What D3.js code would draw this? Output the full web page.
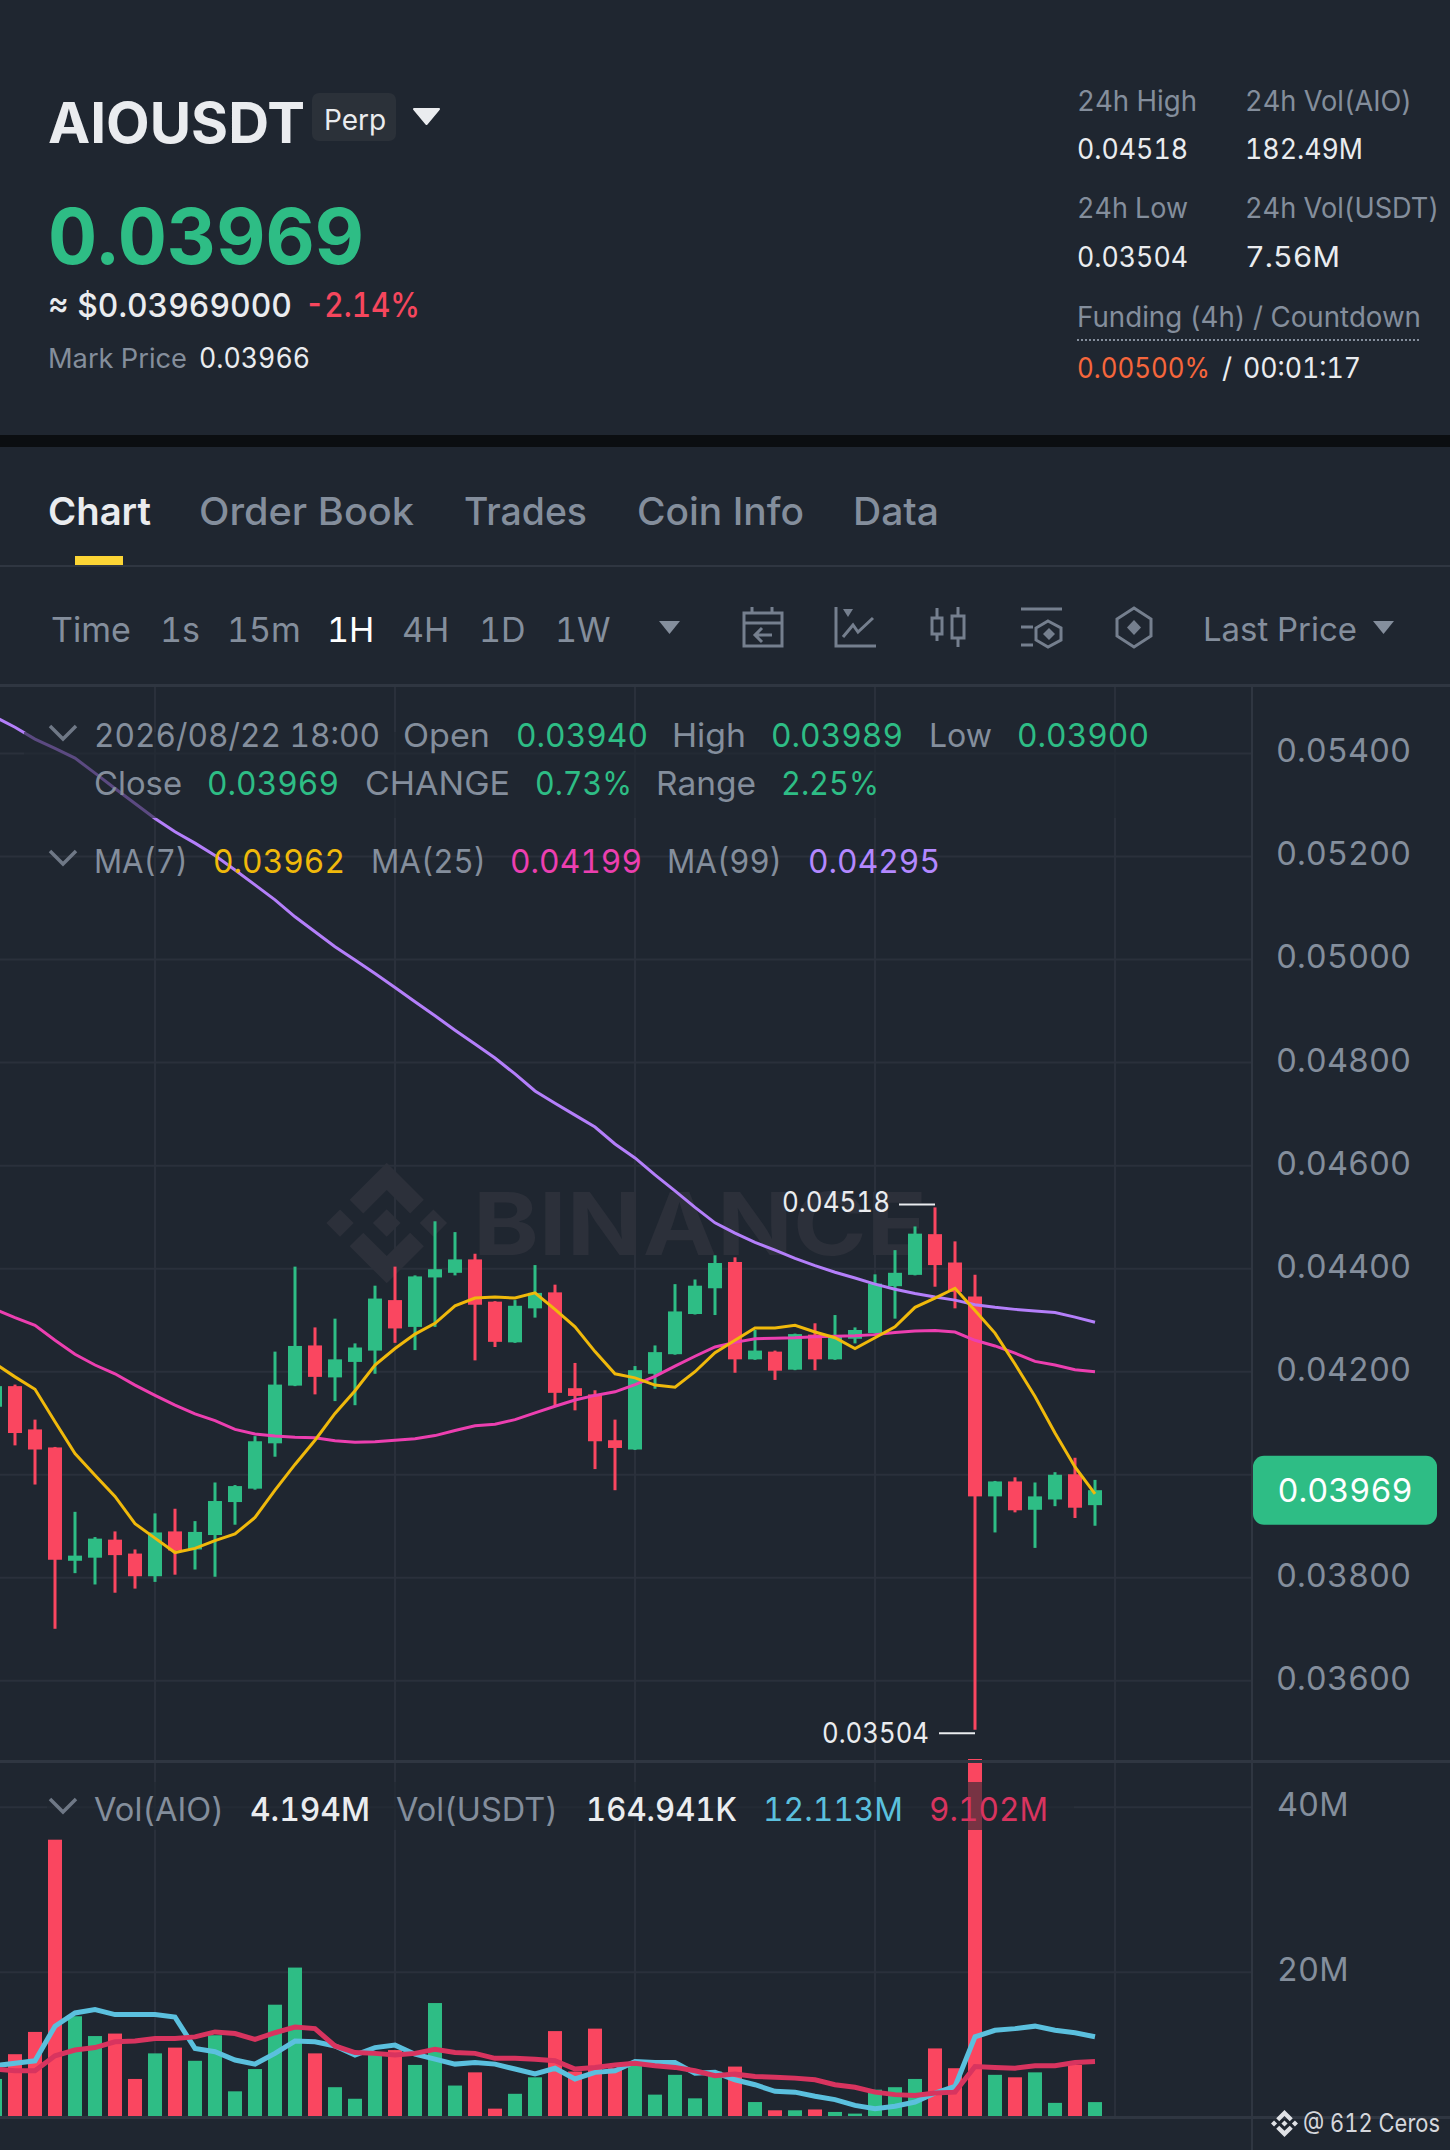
<!DOCTYPE html>
<html lang="en">
<head>
    <meta charset="utf-8">
    <script src="https://d3js.org/d3.v7.min.js"></script>
    <style>
        html, body { margin: 0; padding: 0; background: #1f2630; }
        svg { display: block; }
        text { font-family: Inter, "Noto Sans", sans-serif; font-variant-numeric: tabular-nums; }
    </style>
</head>
<body>
<script>
    // 1h candles, first one is cut by the left edge, last one is 2026/08/22 18:00
    const opens = [0.04131,0.04171,0.04087,0.04052,0.03832,0.03838,0.03873,0.03846,0.03802,0.03889,0.03854,0.03882,0.03946,0.03972,
        0.04060,0.04172,0.04250,0.04188,0.04218,0.04240,0.04338,0.04286,0.04382,0.04391,0.04417,0.04335,0.04256,0.04322,
        0.04353,0.04167,0.04155,0.04066,0.04048,0.04195,0.04233,0.04311,0.04361,0.04412,0.04223,0.04238,0.04203,0.04271,
        0.04223,0.04263,0.04274,0.04365,0.04387,0.04466,0.04411,0.04345,0.03957,0.03986,0.03931,0.03951,0.04000,0.03940];
    const highs = [0.04180,0.04174,0.04106,0.04053,0.03927,0.03878,0.03889,0.03854,0.03924,0.03933,0.03909,0.03984,0.03979,0.04074,
        0.04238,0.04403,0.04285,0.04302,0.04254,0.04366,0.04403,0.04386,0.04491,0.04470,0.04428,0.04336,0.04338,0.04406,
        0.04368,0.04216,0.04163,0.04106,0.04210,0.04250,0.04369,0.04378,0.04425,0.04421,0.04280,0.04240,0.04273,0.04293,
        0.04309,0.04285,0.04388,0.04435,0.04481,0.04518,0.04452,0.04387,0.03987,0.03994,0.03984,0.04004,0.04032,0.03989];
    const lows = [0.04115,0.04056,0.03980,0.03700,0.03808,0.03786,0.03770,0.03778,0.03791,0.03805,0.03815,0.03801,0.03902,0.03970,
        0.04034,0.04171,0.04155,0.04142,0.04134,0.04195,0.04255,0.04241,0.04286,0.04386,0.04221,0.04247,0.04255,0.04304,
        0.04132,0.04124,0.04010,0.03969,0.04047,0.04166,0.04232,0.04310,0.04309,0.04197,0.04222,0.04183,0.04202,0.04202,
        0.04222,0.04254,0.04273,0.04302,0.04386,0.04364,0.04322,0.03504,0.03887,0.03926,0.03857,0.03938,0.03915,0.03900];
    const closes = [0.04171,0.04080,0.04048,0.03834,0.03842,0.03875,0.03843,0.03802,0.03887,0.03852,0.03888,0.03948,0.03977,0.04064,
        0.04174,0.04249,0.04189,0.04223,0.04246,0.04341,0.04283,0.04384,0.04398,0.04417,0.04329,0.04257,0.04327,0.04352,
        0.04158,0.04152,0.04064,0.04051,0.04202,0.04237,0.04316,0.04366,0.04410,0.04223,0.04240,0.04201,0.04272,0.04223,
        0.04267,0.04280,0.04370,0.04391,0.04467,0.04406,0.04354,0.03957,0.03986,0.03930,0.03957,0.03999,0.03935,0.03969];

    const ma7 = [0.04215,0.04189,0.04165,0.04102,0.04040,0.03998,0.03957,0.03904,0.03876,0.03848,0.03856,0.03871,0.03884,0.03916,
        0.03969,0.04019,0.04066,0.04118,0.04162,0.04212,0.04244,0.04272,0.04293,0.04327,0.04342,0.04344,0.04342,0.04352,
        0.04320,0.04286,0.04238,0.04195,0.04187,0.04173,0.04169,0.04199,0.04236,0.04260,0.04284,0.04284,0.04289,0.04276,
        0.04265,0.04244,0.04265,0.04286,0.04324,0.04342,0.04361,0.04318,0.04274,0.04214,0.04151,0.04080,0.04014,0.03962];
    const ma25 = [0.04320,0.04304,0.04289,0.04260,0.04233,0.04212,0.04195,0.04173,0.04153,0.04134,0.04117,0.04104,0.04087,0.04078,
        0.04074,0.04072,0.04071,0.04065,0.04062,0.04063,0.04066,0.04069,0.04075,0.04085,0.04094,0.04097,0.04106,0.04119,
        0.04132,0.04144,0.04153,0.04160,0.04174,0.04190,0.04210,0.04229,0.04247,0.04256,0.04263,0.04264,0.04265,0.04267,
        0.04268,0.04269,0.04271,0.04275,0.04278,0.04279,0.04276,0.04260,0.04249,0.04235,0.04219,0.04212,0.04203,0.04199];
    const ma99 = [0.05470,0.05450,0.05427,0.05409,0.05390,0.05361,0.05331,0.05302,0.05273,0.05247,0.05225,0.05201,0.05173,0.05144,
        0.05115,0.05082,0.05053,0.05024,0.04998,0.04972,0.04945,0.04917,0.04890,0.04862,0.04835,0.04808,0.04777,0.04744,
        0.04720,0.04697,0.04674,0.04641,0.04614,0.04581,0.04550,0.04518,0.04488,0.04468,0.04450,0.04435,0.04419,0.04405,
        0.04392,0.04381,0.04369,0.04359,0.04351,0.04344,0.04338,0.04329,0.04324,0.04320,0.04317,0.04314,0.04305,0.04295];

    // volume in millions
    const volumes = [7.0,10.0,12.7,36.0,14.6,12.2,12.5,7.0,10.1,10.8,9.2,12.3,5.5,8.2,
        16.0,20.5,10.1,6.0,4.6,10.1,10.5,8.7,16.2,6.2,7.8,3.4,5.2,7.2,
        12.8,7.9,13.1,8.3,8.7,5.1,7.5,4.65,7.9,8.5,4.2,3.2,3.2,3.3,
        3.0,2.8,5.7,6.0,7.0,10.7,8.3,46.0,7.5,7.2,7.8,4.1,8.7,4.194];
    const volMaShort = [8.6,8.9,9.2,13.4,15.0,15.4,14.8,14.8,14.8,14.5,10.7,10.3,9.3,8.8,
        10.1,11.6,11.5,11.0,9.9,10.8,11.1,10.0,9.4,8.8,9.0,8.8,8.2,7.6,
        8.3,7.0,7.8,8.0,9.1,9.0,9.0,7.7,7.8,6.9,6.3,5.5,5.4,4.9,
        4.5,3.8,3.4,3.7,4.2,5.3,6.1,12.1,12.9,13.1,13.4,12.9,12.6,12.113];
    const volMaLong = [8.2,8.0,8.0,9.8,10.5,10.8,11.5,11.6,11.9,11.9,12.1,12.7,12.5,11.8,
        12.6,13.3,13.1,11.0,10.2,10.1,9.9,10.1,10.6,10.2,10.1,9.5,9.5,9.4,
        9.2,8.2,8.4,8.7,8.9,8.6,8.4,8.0,7.4,7.6,7.3,7.2,7.1,6.9,
        6.3,6.0,5.4,5.1,5.0,5.3,5.4,8.5,8.4,8.3,8.6,8.6,9.0,9.102];

    const priceTicks = [0.036,0.038,0.040,0.042,0.044,0.046,0.048,0.050,0.052,0.054];
    const volTicks = [20,40];
    const timeGrid = [8,20,32,44,56];

    const timeframes = ['Time','1s','15m','1H','4H','1D','1W'];
    const tabs = ['Chart','Order Book','Trades','Coin Info','Data'];

    const GREEN = '#2ebd85', RED = '#fa4660', GREY = '#848e9c', WHITE = '#eaecef';
    const BG = '#1f2630', GRID = '#2a303b', LINE = '#2f3641';
    const LOGO = 'M38.73 53.2l24.59-24.58 24.6 24.6 14.3-14.31L63.32 0l-38.9 38.9zM0 63.31l14.3-14.31 14.31 14.31-14.31 14.3zM38.73 73.41l24.59 24.59 24.6-24.6 14.31 14.29-38.9 38.91-38.91-38.88-.02-.02zM98 63.31l14.3-14.31 14.31 14.3-14.31 14.32zM77.83 63.3L63.32 48.78 52.59 59.51l-1.24 1.23-2.54 2.54 14.51 14.5 14.51-14.47z';

    const svg = d3.select('body').append('svg').attr('width', 1450).attr('height', 2150);
    svg.append('rect').attr('width', 1450).attr('height', 2150).attr('fill', BG);

    // w stretches the text to the width it has in the reference
    function label(x, y, str, size, color, weight, anchor, w) {
        const t = svg.append('text').attr('x', x).attr('y', y).text(str)
            .attr('font-size', size).attr('fill', color)
            .attr('font-weight', weight || 400)
            .attr('text-anchor', anchor || 'start');
        if (w) t.attr('textLength', w).attr('lengthAdjust', 'spacingAndGlyphs');
        return t;
    }

    // scales
    const x = d3.scaleLinear().domain([0, 1]).range([-5, 15]);
    const y = d3.scaleLinear().domain([0.036, 0.054]).range([1680.3, 753]);
    const yVol = d3.scaleLinear().domain([20, 40]).range([1971.7, 1806.7]);
    const idx = opens.map((d, i) => i);
    const fmt = d3.format('.5f');

    // pane clips
    const defs = svg.append('defs');
    defs.append('clipPath').attr('id', 'main').append('rect').attr('x', 0).attr('y', 686).attr('width', 1251).attr('height', 1075);
    defs.append('clipPath').attr('id', 'vol').append('rect').attr('x', 0).attr('y', 1759).attr('width', 1251).attr('height', 358);

    // header
    svg.append('rect').attr('x', 0).attr('y', 435).attr('width', 1450).attr('height', 12).attr('fill', '#0b0e11');
    label(48, 143, 'AIOUSDT', 56, WHITE, 700, 'start', 257);
    svg.append('rect').attr('x', 312).attr('y', 93).attr('width', 84).attr('height', 48).attr('rx', 7).attr('fill', '#2b3139');
    label(324, 130, 'Perp', 28, WHITE, 400);
    svg.append('path').attr('d', 'M414 109H439L426.5 124Z').attr('fill', WHITE).attr('stroke', WHITE).attr('stroke-width', 2).attr('stroke-linejoin', 'round');
    label(48, 264, '0.03969', 77, GREEN, 700, 'start', 316);
    label(48, 317, '≈ $0.03969000', 33, WHITE, 500, 'start', 244);
    label(305, 317, '-2.14%', 34, '#f6465d', 500, 'start', 115);
    label(48, 368, 'Mark Price', 27, GREY, 400, 'start', 139);
    label(199, 368, '0.03966', 28, WHITE, 400, 'start', 111);

    label(1077, 111, '24h High', 28, GREY, 400, 'start', 120);
    label(1245, 111, '24h Vol(AIO)', 28, GREY, 400, 'start', 167);
    label(1077, 159, '0.04518', 28, WHITE, 400, 'start', 111);
    label(1245, 159, '182.49M', 28, WHITE, 400, 'start', 118);
    label(1077, 218, '24h Low', 28, GREY, 400, 'start', 111);
    label(1245, 218, '24h Vol(USDT)', 28, GREY, 400, 'start', 194);
    label(1077, 267, '0.03504', 28, WHITE, 400, 'start', 111);
    label(1245, 267, '7.56M', 28, WHITE, 400, 'start', 95);
    label(1077, 327, 'Funding (4h) / Countdown', 28, GREY, 400, 'start', 344);
    svg.append('line').attr('x1', 1077).attr('x2', 1421).attr('y1', 340).attr('y2', 340)
        .attr('stroke', GREY).attr('stroke-width', 2).attr('stroke-dasharray', '2 2');
    label(1077, 378, '0.00500%', 28, '#f6663c', 400, 'start', 133);
    label(1222, 378, '/', 28, WHITE);
    label(1243, 378, '00:01:17', 28, WHITE, 400, 'start', 118);

    // tabs
    const tabX = [48, 199, 464, 637, 853];
    const tabW = [103, 215, 123, 167, 86];
    svg.selectAll('text.tab').data(tabs).enter().append('text').attr('class', 'tab')
        .attr('x', (d, i) => tabX[i]).attr('y', 525).text(d => d)
        .attr('font-size', 38).attr('font-weight', (d, i) => i ? 500 : 600)
        .attr('textLength', (d, i) => tabW[i]).attr('lengthAdjust', 'spacingAndGlyphs')
        .attr('fill', (d, i) => i ? GREY : WHITE);
    svg.append('rect').attr('x', 75).attr('y', 556).attr('width', 48).attr('height', 10).attr('fill', '#fcd535');
    svg.append('rect').attr('x', 0).attr('y', 565).attr('width', 1450).attr('height', 2).attr('fill', LINE);

    // toolbar
    const tfX = [51, 160, 227, 327, 402, 479, 555];
    svg.selectAll('text.tf').data(timeframes).enter().append('text').attr('class', 'tf')
        .attr('x', (d, i) => tfX[i]).attr('y', 642).text(d => d)
        .attr('font-size', 34).attr('fill', d => d === '1H' ? '#fff' : GREY);
    svg.append('path').attr('d', 'M659 621H680L669.5 634Z').attr('fill', GREY);
    label(1203, 641, 'Last Price', 33, GREY, 400, 'start', 154);
    svg.append('path').attr('d', 'M1373 621H1394L1383.5 634Z').attr('fill', GREY);

    const icons = svg.append('g').attr('fill', 'none').attr('stroke', '#757f8e').attr('stroke-width', 3);
    icons.append('path').attr('d', 'M744 613H782V646H744ZM744 623H782M752 607V613M772 607V613M772 635H755M762 628L755 635L762 642');
    icons.append('path').attr('d', 'M836 607V646H876M843 637L853 625L858 632L873 618');
    svg.append('path').attr('d', 'M843 609H853L848 617Z').attr('fill', '#757f8e');
    icons.append('path').attr('d', 'M932 618H942V634H932ZM937 608V618M937 634V641M952 616H964V638H952ZM958 607V616M958 638V647');
    icons.append('path').attr('d', 'M1021 609H1062M1021 627H1033M1021 645H1033M1048 621L1061 628V640L1048 647L1036 640V628Z');
    svg.append('path').attr('d', 'M1049 628L1055 634L1049 640L1043 634Z').attr('fill', '#757f8e');
    icons.append('path').attr('d', 'M1134 608L1151 619V636L1134 647L1117 636V619Z');
    svg.append('path').attr('d', 'M1134 620L1141 627.5L1134 635L1127 627.5Z').attr('fill', '#757f8e');

    // grid, drawn through the axes
    const gridLines = g => g.call(s => s.select('.domain').remove())
        .call(s => s.selectAll('text').remove())
        .call(s => s.selectAll('line').attr('stroke', GRID).attr('stroke-width', 2));
    const gridMain = svg.append('g').attr('clip-path', 'url(#main)');
    gridMain.append('g').attr('transform', 'translate(1251,0)')
        .call(d3.axisLeft(y).tickValues(priceTicks).tickSize(1251))
        .call(gridLines);
    const gridVol = svg.append('g').attr('clip-path', 'url(#vol)');
    gridVol.append('g').attr('transform', 'translate(1251,0)')
        .call(d3.axisLeft(yVol).tickValues(volTicks).tickSize(1251))
        .call(gridLines);
    [[gridMain, 686, 1761], [gridVol, 1761, 2117]].forEach(([g, top, bottom]) => {
        g.selectAll('line.vgrid').data(timeGrid).enter().append('line').attr('class', 'vgrid')
            .attr('x1', d => x(d)).attr('x2', d => x(d)).attr('y1', top).attr('y2', bottom)
            .attr('stroke', GRID).attr('stroke-width', 2);
    });

    // watermark
    svg.append('path').attr('d', LOGO).attr('transform', 'translate(326.4,1162.7) scale(0.953)').attr('fill', '#2c303a');
    label(473, 1255, 'BINANCE', 87, '#2c303a', 700, 'start', 454);

    // volume pane
    const volPane = svg.append('g').attr('clip-path', 'url(#vol)');
    volPane.selectAll('rect').data(idx).enter().append('rect')
        .attr('x', i => x(i) - 7).attr('width', 14)
        .attr('y', i => yVol(volumes[i])).attr('height', i => yVol(0) - yVol(volumes[i]))
        .attr('fill', i => closes[i] >= opens[i] ? GREEN : RED);
    const volLine = series => d3.line().x(i => x(i)).y(i => yVol(series[i]))(idx);
    volPane.append('path').attr('d', volLine(volMaShort)).attr('fill', 'none').attr('stroke', '#5bc0de').attr('stroke-width', 5);
    volPane.append('path').attr('d', volLine(volMaLong)).attr('fill', 'none').attr('stroke', '#d8345f').attr('stroke-width', 5);

    // candles
    const pane = svg.append('g').attr('clip-path', 'url(#main)');
    const candles = pane.selectAll('g.candle').data(idx).enter().append('g').attr('class', 'candle')
        .attr('fill', i => closes[i] >= opens[i] ? GREEN : RED)
        .attr('stroke', i => closes[i] >= opens[i] ? GREEN : RED);
    candles.append('line').attr('x1', i => x(i)).attr('x2', i => x(i))
        .attr('y1', i => y(highs[i])).attr('y2', i => y(lows[i])).attr('stroke-width', 3);
    candles.append('rect').attr('x', i => x(i) - 7).attr('width', 14).attr('stroke', 'none')
        .attr('y', i => y(Math.max(opens[i], closes[i])))
        .attr('height', i => Math.max(1, Math.abs(y(opens[i]) - y(closes[i]))));

    const priceLine = series => d3.line().x(i => x(i)).y(i => y(series[i]))(idx);
    pane.append('path').attr('d', priceLine(ma99)).attr('fill', 'none').attr('stroke', '#b47ffa').attr('stroke-width', 3);
    pane.append('path').attr('d', priceLine(ma25)).attr('fill', 'none').attr('stroke', '#ec3fb0').attr('stroke-width', 3);
    pane.append('path').attr('d', priceLine(ma7)).attr('fill', 'none').attr('stroke', '#f0b90b').attr('stroke-width', 3);

    // high / low annotations
    const iHigh = highs.indexOf(d3.max(highs)), iLow = lows.indexOf(d3.min(lows));
    label(782, y(highs[iHigh]) + 5, fmt(highs[iHigh]), 29, WHITE, 400, 'start', 108);
    svg.append('line').attr('x1', x(iHigh) - 36).attr('x2', x(iHigh)).attr('y1', y(highs[iHigh]) - 3).attr('y2', y(highs[iHigh]) - 3)
        .attr('stroke', WHITE).attr('stroke-width', 2);
    label(822, y(lows[iLow]) + 13, fmt(lows[iLow]), 29, WHITE, 400, 'start', 107);
    svg.append('line').attr('x1', x(iLow) - 36).attr('x2', x(iLow)).attr('y1', y(lows[iLow]) + 3.5).attr('y2', y(lows[iLow]) + 3.5)
        .attr('stroke', WHITE).attr('stroke-width', 2);

    // legend backings dim whatever runs under them
    svg.append('rect').attr('x', 24).attr('y', 732).attr('width', 1136).attr('height', 86).attr('fill', BG).attr('opacity', 0.6);
    svg.append('rect').attr('x', 47).attr('y', 1782).attr('width', 1027).attr('height', 48).attr('fill', BG).attr('opacity', 0.6);

    // pane borders
    svg.append('rect').attr('x', 0).attr('y', 684).attr('width', 1450).attr('height', 3).attr('fill', LINE);
    svg.append('rect').attr('x', 0).attr('y', 1760).attr('width', 1450).attr('height', 3).attr('fill', LINE);
    svg.append('rect').attr('x', 0).attr('y', 2116).attr('width', 1450).attr('height', 3).attr('fill', LINE);
    svg.append('rect').attr('x', 1251).attr('y', 686).attr('width', 2).attr('height', 1464).attr('fill', LINE);

    // axes
    const axisText = g => g.call(s => s.select('.domain').remove())
        .call(s => s.selectAll('line').remove())
        .call(s => s.selectAll('text').attr('font-size', 32.5).attr('fill', GREY).attr('font-family', 'Inter'));
    svg.append('g').attr('transform', 'translate(1276,-1.5)')
        .call(d3.axisRight(y).tickValues(priceTicks).tickSize(0).tickPadding(0).tickFormat(fmt))
        .call(axisText);
    svg.append('g').attr('transform', 'translate(1277,-1.5)')
        .call(d3.axisRight(yVol).tickValues(volTicks).tickSize(0).tickPadding(0).tickFormat(d => d + 'M'))
        .call(axisText);

    // last price tag
    const last = closes.length - 1;
    svg.append('rect').attr('x', 1253).attr('y', y(closes[last]) - 34.5).attr('width', 184).attr('height', 69).attr('rx', 11).attr('fill', GREEN);
    label(1345, y(closes[last]) + 12, fmt(closes[last]), 32.5, '#fff', 400, 'middle');

    // legends
    const chevron = (cy) => svg.append('path').attr('d', `M50 ${cy}L63 ${cy + 13}L76 ${cy}`)
        .attr('fill', 'none').attr('stroke', '#6f7886').attr('stroke-width', 3.5);
    chevron(726); chevron(851); chevron(1799);

    label(94, 747, '2026/08/22 18:00', 33, GREY, 400, 'start', 286);
    label(403, 747, 'Open', 33, GREY, 400, 'start', 87);
    label(516, 747, fmt(opens[last]), 33, GREEN, 400, 'start', 132);
    label(672, 747, 'High', 33, GREY, 400, 'start', 74);
    label(771, 747, fmt(highs[last]), 33, GREEN, 400, 'start', 132);
    label(929, 747, 'Low', 33, GREY, 400, 'start', 63);
    label(1017, 747, fmt(lows[last]), 33, GREEN, 400, 'start', 132);
    label(94, 795, 'Close', 33, GREY, 400, 'start', 88);
    label(207, 795, fmt(closes[last]), 33, GREEN, 400, 'start', 132);
    label(365, 795, 'CHANGE', 33, GREY, 400, 'start', 145);
    label(535, 795, '0.73%', 33, GREEN, 400, 'start', 97);
    label(656, 795, 'Range', 33, GREY, 400, 'start', 100);
    label(781, 795, '2.25%', 33, GREEN, 400, 'start', 98);
    label(94, 873, 'MA(7)', 33, GREY, 400, 'start', 94);
    label(213, 873, fmt(ma7[last]), 33, '#f0b90b', 400, 'start', 132);
    label(371, 873, 'MA(25)', 33, GREY, 400, 'start', 115);
    label(510, 873, fmt(ma25[last]), 33, '#ec3fb0', 400, 'start', 132);
    label(667, 873, 'MA(99)', 33, GREY, 400, 'start', 115);
    label(808, 873, fmt(ma99[last]), 33, '#b388ff', 400, 'start', 132);

    label(94, 1821, 'Vol(AIO)', 33, GREY, 400, 'start', 130);
    label(250, 1821, '4.194M', 33, WHITE, 500, 'start', 120);
    label(396, 1821, 'Vol(USDT)', 33, GREY, 400, 'start', 162);
    label(586, 1821, '164.941K', 33, WHITE, 500, 'start', 151);
    label(763, 1821, '12.113M', 33, '#5bc0de', 400, 'start', 140);
    label(929, 1821, '9.102M', 33, '#d8345f', 400, 'start', 119);

    // footer
    svg.append('path').attr('d', LOGO).attr('transform', 'translate(1271,2110) scale(0.213)').attr('fill', '#dfe1e5');
    label(1303, 2132, '@ 612 Ceros', 25, '#d5d7dc', 400, 'start', 137);
</script>
</body>
</html>
